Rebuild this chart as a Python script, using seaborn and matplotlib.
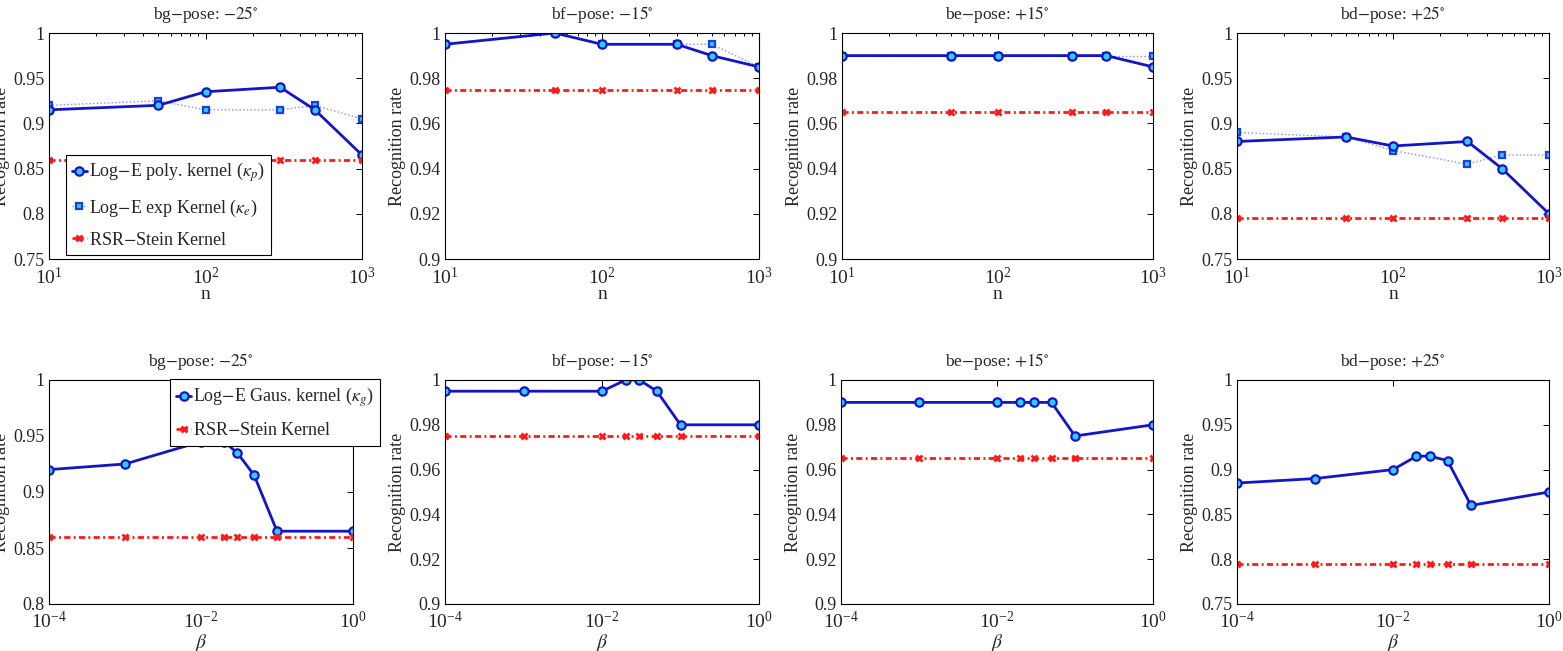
import numpy as np
import matplotlib
matplotlib.use("Agg")
import matplotlib.pyplot as plt
import matplotlib.ticker as ticker
import seaborn as sns

# x values
n_vals = [10, 50, 100, 300, 500, 1000]
beta_vals = [1e-4, 1e-3, 1e-2, 2e-2, 3e-2, 5e-2, 1e-1, 1.0]

pose_titles = [r"bg$-$pose: $-25^{\circ}$", r"bf$-$pose: $-15^{\circ}$",
               r"be$-$pose: $+15^{\circ}$", r"bd$-$pose: $+25^{\circ}$"]

# top row: recognition rate vs n
poly_bg = [0.915, 0.92, 0.935, 0.94, 0.915, 0.865]
exp_bg = [0.92, 0.925, 0.915, 0.915, 0.92, 0.905]
poly_bf = [0.995, 1.0, 0.995, 0.995, 0.99, 0.985]
exp_bf = [0.995, 1.0, 0.995, 0.995, 0.995, 0.985]
poly_be = [0.99, 0.99, 0.99, 0.99, 0.99, 0.985]
exp_be = [0.99, 0.99, 0.99, 0.99, 0.99, 0.99]
poly_bd = [0.88, 0.885, 0.875, 0.88, 0.85, 0.80]
exp_bd = [0.89, 0.885, 0.87, 0.855, 0.865, 0.865]

# bottom row: recognition rate vs beta
gaus_bg = [0.92, 0.925, 0.945, 0.945, 0.935, 0.915, 0.865, 0.865]
gaus_bf = [0.995, 0.995, 0.995, 1.0, 1.0, 0.995, 0.98, 0.98]
gaus_be = [0.99, 0.99, 0.99, 0.99, 0.99, 0.99, 0.975, 0.98]
gaus_bd = [0.885, 0.89, 0.90, 0.915, 0.915, 0.91, 0.86, 0.875]

# RSR-Stein baseline per pose
stein = [0.86, 0.975, 0.965, 0.795]

# y axis ranges per panel
ylims_top = [(0.75, 1.0), (0.9, 1.0), (0.9, 1.0), (0.75, 1.0)]
ylims_bot = [(0.8, 1.0), (0.9, 1.0), (0.9, 1.0), (0.75, 1.0)]
ysteps_top = [0.05, 0.02, 0.02, 0.05]
ysteps_bot = [0.05, 0.02, 0.02, 0.05]

poly_all = [poly_bg, poly_bf, poly_be, poly_bd]
exp_all = [exp_bg, exp_bf, exp_be, exp_bd]
gaus_all = [gaus_bg, gaus_bf, gaus_be, gaus_bd]

sns.set_style("white")
plt.rcParams["font.family"] = ["Liberation Serif", "DejaVu Serif"]
plt.rcParams["mathtext.fontset"] = "stix"

BLUE = "#1414c8"
CYAN = "#33ccff"
SQ_EDGE = "#1a40e0"
DOT = "#8c8ce8"
RED = "#ff1a1a"
DASHDOT = (0, (2.2, 1.2, 0.7, 1.2))

W, H = 1563, 651
fig = plt.figure(figsize=(W / 100, H / 100), dpi=100)


def px_axes(left, right, top, bottom):
    return fig.add_axes([left / W, 1 - bottom / H, (right - left) / W, (bottom - top) / H])


def style_axes(ax, ylim, ystep, title, xlabel, xlabelpad=-2):
    ax.set_ylim(*ylim)
    ticks = np.round(np.arange(ylim[0], ylim[1] + 1e-9, ystep), 3)
    ax.set_yticks(ticks)
    ax.set_yticklabels([("%g" % t) for t in ticks])
    ax.tick_params(which="both", direction="in", top=True, right=True, labelsize=13,
                   width=0.7, color="black")
    ax.tick_params(axis="x", labelsize=14, pad=6)
    ax.tick_params(which="major", length=4)
    ax.tick_params(which="minor", length=2)
    for s in ax.spines.values():
        s.set_color("black")
        s.set_linewidth(0.8)
    ax.set_title(title, fontsize=12.5, pad=10)
    ax.set_xlabel(xlabel, fontsize=14, labelpad=xlabelpad)
    ax.set_ylabel("Recognition rate", fontsize=13, labelpad=2)


def add_legend(ax, **kw):
    leg = ax.legend(fontsize=13, frameon=True, fancybox=False, edgecolor="black",
                    framealpha=1, handlelength=0.8, handletextpad=0.15, borderpad=0.35,
                    labelspacing=0.72, borderaxespad=0, **kw)
    leg.get_frame().set_linewidth(0.8)
    return leg


top_lr = [(49, 362), (445, 759), (842, 1153), (1237, 1549)]
bot_lr = [(49, 353), (445, 759), (841, 1153), (1237, 1549)]

for i in range(4):
    # top row
    ax = px_axes(top_lr[i][0], top_lr[i][1], 33, 259)
    ax.set_xscale("log")
    sns.lineplot(x=n_vals, y=exp_all[i], ax=ax, color=DOT, lw=1, linestyle=":",
                 marker="s", markersize=5, markerfacecolor=CYAN, markeredgecolor=SQ_EDGE,
                 markeredgewidth=1.6, label=r"Log$-$E exp Kernel ($\kappa_e$)", legend=False)
    sns.lineplot(x=n_vals, y=poly_all[i], ax=ax, color=BLUE, lw=2, linestyle="-",
                 marker="o", markersize=6, markerfacecolor=CYAN, markeredgecolor=BLUE,
                 markeredgewidth=1.6, label=r"Log$-$E poly. kernel ($\kappa_p$)", legend=False)
    sns.lineplot(x=n_vals, y=[stein[i]] * len(n_vals), ax=ax, color=RED, lw=2,
                 linestyle=DASHDOT, marker="x", markersize=4.5, markeredgewidth=2,
                 markeredgecolor=RED, label=r"RSR$-$Stein Kernel", legend=False)
    ax.set_xlim(10, 1000)
    style_axes(ax, ylims_top[i], ysteps_top[i], pose_titles[i], "n")
    if i == 0:
        h, l = ax.get_legend_handles_labels()
        order = [1, 0, 2]
        add_legend(ax, handles=[h[k] for k in order], labels=[l[k] for k in order],
                   loc="lower left", bbox_to_anchor=(0.054, 0.018))

    # bottom row
    ax = px_axes(bot_lr[i][0], bot_lr[i][1], 380, 604)
    ax.set_xscale("log")
    sns.lineplot(x=beta_vals, y=gaus_all[i], ax=ax, color=BLUE, lw=2, linestyle="-",
                 marker="o", markersize=6, markerfacecolor=CYAN, markeredgecolor=BLUE,
                 markeredgewidth=1.6, label=r"Log$-$E Gaus. kernel ($\kappa_g$)", legend=False)
    sns.lineplot(x=beta_vals, y=[stein[i]] * len(beta_vals), ax=ax, color=RED, lw=2,
                 linestyle=DASHDOT, marker="x", markersize=4.5, markeredgewidth=2,
                 markeredgecolor=RED, label=r"RSR$-$Stein Kernel", legend=False)
    ax.set_xlim(1e-4, 1)
    ax.xaxis.set_major_locator(ticker.FixedLocator([1e-4, 1e-2, 1]))
    ax.xaxis.set_minor_locator(ticker.NullLocator())
    style_axes(ax, ylims_bot[i], ysteps_bot[i], pose_titles[i], r"$\beta$", xlabelpad=0)
    ax.tick_params(axis="x", pad=5)
    if i == 0:
        add_legend(ax, loc="upper left", bbox_to_anchor=(0.398, 1.003))

fig.savefig("out.png", dpi=100)
